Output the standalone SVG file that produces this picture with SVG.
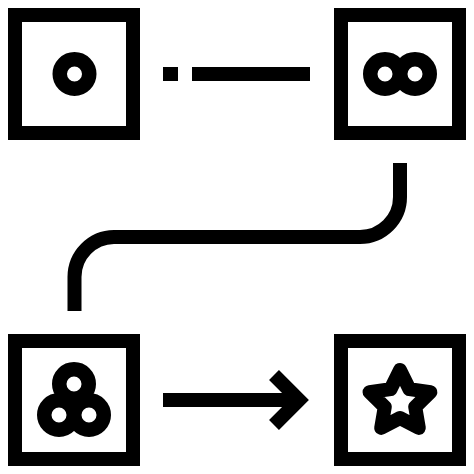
<svg xmlns="http://www.w3.org/2000/svg" width="474" height="474" viewBox="0 0 474 474">
<style>
.box{fill:none;stroke:#000;stroke-width:14;stroke-linejoin:miter}
.ring{fill:none;stroke:#000;stroke-width:14.5}
.conn{fill:none;stroke:#000;stroke-width:14}
</style>
<rect width="474" height="474" fill="#fff"/>
<g id="connectors">
<line class="conn" x1="163" y1="74" x2="310" y2="74" stroke-dasharray="15 14 118"/>
<path class="conn" d="M400 163 V197 A40 40 0 0 1 360 237 H114 A40 40 0 0 0 74.5 277 V311"/>
<line class="conn" x1="163" y1="400" x2="298" y2="400"/>
<polyline class="conn" points="274,375 299,400 274,425" stroke-linejoin="miter"/>
</g>
<g id="node-circle">
<rect class="box" x="15" y="15" width="118" height="118"/>
<circle class="ring" cx="74.5" cy="74" r="14.75"/>
</g>
<g id="node-infinity">
<rect class="box" x="341" y="15" width="118" height="118"/>
<circle class="ring" cx="385" cy="74" r="14.75"/>
<circle class="ring" cx="415" cy="74" r="14.75"/>
</g>
<g id="node-trefoil">
<rect class="box" x="15" y="341" width="118" height="118"/>
<circle class="ring" cx="74" cy="384" r="14.75"/>
<circle class="ring" cx="59" cy="415" r="14.75"/>
<circle class="ring" cx="89" cy="415" r="14.75"/>
</g>
<g id="node-star">
<rect class="box" x="341" y="341" width="118" height="118"/>
<polygon fill="none" stroke="#000" stroke-width="14" stroke-linejoin="round" points="400,370 409.4,389.06 430.43,392.11 415.22,406.94 418.81,427.89 400,418 381.19,427.89 384.78,406.94 369.57,392.11 390.6,389.06"/>
</g>
</svg>
